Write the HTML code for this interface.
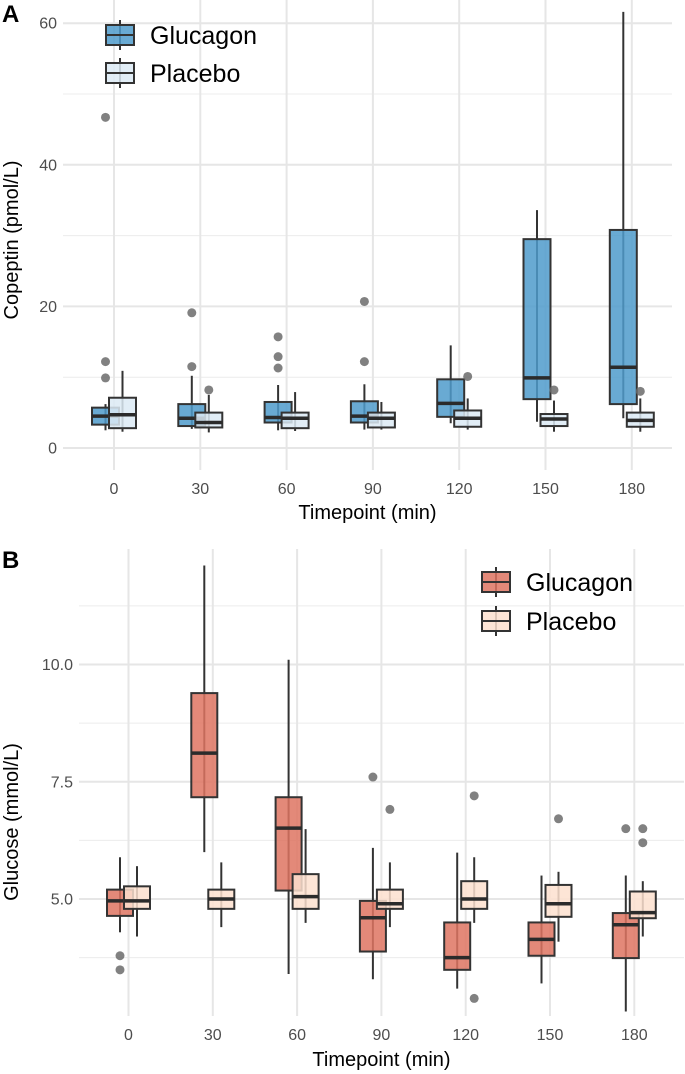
<!DOCTYPE html>
<html><head><meta charset="utf-8"><style>
body{margin:0;background:#fff}
svg{display:block;font-family:"Liberation Sans",sans-serif}
</style></head><body>
<svg id="chart" width="685" height="1074"></svg>
<script>
const timepoints=["0","30","60","90","120","150","180"];
// [lowWhisker, q1, median, q3, highWhisker]
const copGluc=[[2.5,3.3,4.5,5.7,6.2],[2.7,3.1,4.2,6.2,10.2],[2.5,3.6,4.3,6.5,8.9],[2.6,3.6,4.5,6.6,9.0],[3.5,4.4,6.3,9.7,14.5],[3.7,6.9,9.9,29.5,33.6],[4.2,6.2,11.4,30.8,61.6]];
const copPlac=[[2.3,2.8,4.7,7.1,10.9],[2.2,2.9,3.6,5.0,7.5],[2.4,2.8,4.2,5.0,7.9],[2.6,2.9,4.2,5.0,6.5],[2.6,3.0,4.2,5.3,7.0],[2.3,3.1,4.1,4.8,6.7],[2.3,3.0,3.9,5.0,7.0]];
const copGlucOut=[[46.7,12.2,9.9],[19.1,11.5],[15.7,12.9,11.3],[20.7,12.2],[],[],[]];
const copPlacOut=[[],[8.2],[],[],[10.1],[8.2],[8.0]];
const gluGluc=[[4.29,4.64,4.96,5.2,5.89],[6.0,7.17,8.11,9.39,12.11],[3.4,5.18,6.51,7.17,10.1],[3.29,3.88,4.6,4.96,6.09],[3.09,3.49,3.75,4.5,5.99],[3.2,3.79,4.14,4.5,5.5],[2.6,3.74,4.45,4.7,5.5]];
const gluPlac=[[4.2,4.79,4.96,5.27,5.7],[4.4,4.79,5.0,5.2,5.78],[4.49,4.79,5.05,5.53,6.49],[4.4,4.79,4.9,5.2,5.78],[4.49,4.79,5.0,5.38,5.89],[4.09,4.62,4.9,5.3,5.58],[4.2,4.59,4.71,5.16,5.38]];
const gluGlucOut=[[3.79,3.49],[],[],[7.6],[],[],[6.5]];
const gluPlacOut=[[],[],[],[6.91],[7.2,2.88],[6.71],[6.5,6.2]];
const copTicks=[0,20,40,60], copMinor=[10,30,50];
const gluTicks=[5.0,7.5,10.0], gluMinor=[3.75,6.25,8.75,11.25];

const svg=document.getElementById('chart');
const NS='http://www.w3.org/2000/svg';
function mk(tag,attrs,parent,text){const e=document.createElementNS(NS,tag);for(const k in attrs)e.setAttribute(k,attrs[k]);if(text!==undefined)e.textContent=text;(parent||svg).appendChild(e);return e;}

function panel(cfg){
  const g=mk('g',{});
  
  
  const y=v=>cfg.y0-(v-cfg.v0)*cfg.ppu;
  const x=i=>cfg.x0+i*cfg.dx;
  cfg.minor.forEach(v=>{const l=mk('line',{x1:cfg.left,x2:cfg.right,y1:y(v),y2:y(v),stroke:'#ececec','stroke-width':1},g);});
  cfg.ticks.forEach(v=>{const l=mk('line',{x1:cfg.left,x2:cfg.right,y1:y(v),y2:y(v),stroke:'#e6e6e6','stroke-width':2},g);
    const t=mk('text',{x:cfg.left-6,y:y(v)+5.5,'text-anchor':'end','font-size':16,fill:'#4d4d4d'},g,cfg.fmt(v));});
  timepoints.forEach((tp,i)=>{const l=mk('line',{x1:x(i),x2:x(i),y1:cfg.top,y2:cfg.bottom,stroke:'#e6e6e6','stroke-width':2},g);
    const t=mk('text',{x:x(i),y:cfg.xlabY,'text-anchor':'middle','font-size':16,fill:'#4d4d4d'},g,tp);});
  const series=[[cfg.g,cfg.gOut,-8.5,cfg.c1,'glucagon'],[cfg.p,cfg.pOut,8.5,cfg.c2,'placebo']];
  series.forEach(([data,outs,off,col,nm])=>{
    data.forEach((d,i)=>{
      const cx=x(i)+off,w=cfg.bw;
      const wl=mk('line',{x1:cx,x2:cx,y1:y(d[0]),y2:y(d[4]),stroke:'#333','stroke-width':2},g);
      
      const r=mk('rect',{x:cx-w/2,y:y(d[3]),width:w,height:y(d[1])-y(d[3]),fill:col,'fill-opacity':0.85,stroke:'#333','stroke-width':2},g);
      
      const m=mk('line',{x1:cx-w/2,x2:cx+w/2,y1:y(d[2]),y2:y(d[2]),stroke:'#2b2b2b','stroke-width':3.5},g);
      
      outs[i].forEach(v=>{const c=mk('circle',{cx:cx,cy:y(v),r:4.5,fill:'#6b6b6b','fill-opacity':0.85},g);});
    });
  });
  const xt=mk('text',{x:(cfg.left+cfg.right)/2,y:cfg.xtitleY,'text-anchor':'middle','font-size':20,fill:'#000'},g,'Timepoint (min)');
  
  const yt=mk('text',{x:0,y:0,'text-anchor':'middle','font-size':20,fill:'#000',transform:`translate(${cfg.ytitleX},${cfg.ytitleY}) rotate(-90)`},g,cfg.ytitle);
  
  const lab=mk('text',{x:cfg.labX,y:cfg.labY,'font-size':24,'font-weight':'bold',fill:'#000'},g,cfg.label);
  
  [[cfg.c1,'Glucagon',cfg.legY[0]],[cfg.c2,'Placebo',cfg.legY[1]]].forEach(([col,txt,cy])=>{
    const lg=mk('g',{},g);
    const kx=cfg.legX+15;
    mk('line',{x1:kx,x2:kx,y1:cy-15,y2:cy+15,stroke:'#333','stroke-width':2},lg);
    mk('rect',{x:cfg.legX+1,y:cy-10,width:28,height:20,fill:col,'fill-opacity':0.85,stroke:'#333','stroke-width':2},lg);
    mk('line',{x1:cfg.legX+1,x2:cfg.legX+29,y1:cy,y2:cy,stroke:'#333','stroke-width':2},lg);
    mk('text',{x:cfg.legX+45,y:cy+9,'font-size':25,fill:'#000'},lg,txt);
  });
}
panel({name:'panel-a-copeptin',label:'A',labX:2,labY:22,x0:114,dx:86.3,left:63,right:672,top:0,bottom:470,y0:448,v0:0,ppu:7.08,
  ticks:copTicks,minor:copMinor,fmt:v=>String(v),g:copGluc,p:copPlac,gOut:copGlucOut,pOut:copPlacOut,bw:27,
  c1:'#4f9bcb',c2:'#dceaf5',xlabY:494,xtitleY:519,ytitle:'Copeptin (pmol/L)',ytitleX:18,ytitleY:240,legX:105,legY:[35,73]});
panel({name:'panel-b-glucose',label:'B',labX:2,labY:568,x0:128.5,dx:84.3,left:79,right:684,top:549,bottom:1016,y0:899,v0:5,ppu:46.9,
  ticks:gluTicks,minor:gluMinor,fmt:v=>v.toFixed(1),g:gluGluc,p:gluPlac,gOut:gluGlucOut,pOut:gluPlacOut,bw:26,
  c1:'#de7461',c2:'#fde0cf',xlabY:1040,xtitleY:1066,ytitle:'Glucose (mmol/L)',ytitleX:18,ytitleY:822,legX:481,legY:[582,621]});
</script>
</body></html>
